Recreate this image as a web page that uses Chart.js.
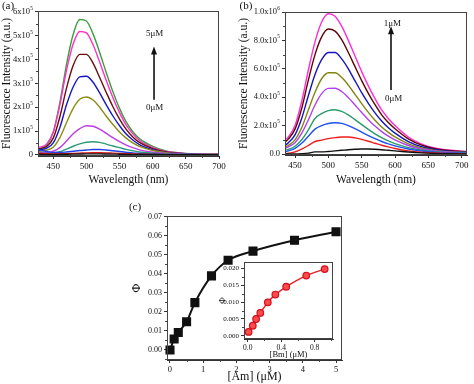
<!DOCTYPE html>
<html>
<head>
<meta charset="utf-8">
<script src="https://cdn.jsdelivr.net/npm/chart.js@4.4.1/dist/chart.umd.min.js"></script>
<style>
  body { margin: 0; background: #fff; width: 474px; height: 384px; position: relative; overflow: hidden; }
  canvas { position: absolute; }
</style>
</head>
<body>
<canvas id="chartA" width="237" height="190" style="left:0;top:0"></canvas>
<canvas id="chartB" width="237" height="190" style="left:237px;top:0"></canvas>
<canvas id="chartC" width="280" height="194" style="left:100px;top:190px"></canvas>
<canvas id="chartInset" width="135" height="110" style="left:205px;top:255px"></canvas>
<script>
// ---- panel (a): spectra, intensity in units of 1e5
const wlA = [427, 440, 450, 460, 470, 480, 490, 500, 510, 520, 530, 540, 550, 560, 570, 580, 600, 620, 650, 700]
const a1 = [0.03, 0.02, 0.02, 0.02, 0.025, 0.03, 0.035, 0.04, 0.04, 0.04, 0.035, 0.03, 0.025, 0.02, 0.015, 0.01, 0.01, 0.005, 0, 0]
const a2 = [0.06, 0.05, 0.04, 0.045, 0.05, 0.06, 0.07, 0.08, 0.085, 0.085, 0.08, 0.07, 0.06, 0.05, 0.04, 0.03, 0.02, 0.01, 0.005, 0]
const a3 = [0.2, 0.14, 0.1, 0.1, 0.12, 0.15, 0.18, 0.2, 0.22, 0.22, 0.2, 0.17, 0.14, 0.11, 0.08, 0.06, 0.03, 0.02, 0.01, 0]
const a4 = [0.05, 0.06, 0.08, 0.13, 0.24, 0.36, 0.46, 0.53, 0.55, 0.52, 0.45, 0.37, 0.3, 0.23, 0.17, 0.12, 0.07, 0.04, 0.01, 0]
const a5 = [0.08, 0.1, 0.15, 0.3, 0.58, 0.88, 1.1, 1.22, 1.2, 1.08, 0.9, 0.72, 0.55, 0.41, 0.3, 0.21, 0.11, 0.06, 0.02, 0.01]
const a6 = [0.15, 0.2, 0.32, 0.72, 1.35, 1.95, 2.33, 2.43, 2.3, 2.0, 1.62, 1.27, 0.96, 0.7, 0.5, 0.35, 0.18, 0.09, 0.03, 0.01]
const a7 = [0.2, 0.28, 0.5, 1.15, 2.1, 2.85, 3.27, 3.3, 3.05, 2.6, 2.1, 1.63, 1.22, 0.87, 0.62, 0.43, 0.22, 0.1, 0.04, 0.01]
const a8 = [0.25, 0.35, 0.7, 1.6, 2.8, 3.75, 4.22, 4.22, 3.85, 3.25, 2.62, 2.02, 1.5, 1.07, 0.75, 0.52, 0.26, 0.12, 0.04, 0.01]
const a9 = [0.3, 0.45, 0.95, 2.1, 3.55, 4.65, 5.18, 5.12, 4.62, 3.9, 3.12, 2.4, 1.77, 1.25, 0.88, 0.6, 0.3, 0.14, 0.05, 0.01]
const a10 = [0.22, 0.4, 0.95, 2.2, 3.8, 5.05, 5.68, 5.62, 5.08, 4.3, 3.45, 2.65, 1.95, 1.38, 0.97, 0.68, 0.35, 0.16, 0.06, 0.01]
const yTicksA = [0, 1, 2, 3, 4, 5, 6]
const yMantA = ['0', '1x10', '2x10', '3x10', '4x10', '5x10', '6x10']
const yExpA = ['', '5', '5', '5', '5', '5', '5']
const xTicksA = [450, 500, 550, 600, 650, 700]

// ---- panel (b)
const wlB = [435, 440, 450, 460, 470, 480, 490, 500, 510, 520, 530, 540, 550, 560, 570, 580, 590, 600, 620, 640, 660, 680, 700, 708]
const b1 = [0, 0, 0, 0.02, 0.06, 0.15, 0.15, 0.18, 0.22, 0.26, 0.3, 0.33, 0.35, 0.35, 0.33, 0.3, 0.26, 0.22, 0.14, 0.08, 0.04, 0.02, 0.01, 0.01]
const b2 = [0, 0.05, 0.15, 0.35, 0.6, 0.88, 0.98, 1.08, 1.15, 1.2, 1.2, 1.14, 1.03, 0.9, 0.76, 0.62, 0.5, 0.39, 0.22, 0.12, 0.07, 0.04, 0.03, 0.03]
const b3 = [0.15, 0.22, 0.4, 0.75, 1.25, 1.75, 2.0, 2.15, 2.2, 2.16, 2.0, 1.78, 1.54, 1.3, 1.08, 0.88, 0.71, 0.57, 0.35, 0.21, 0.12, 0.08, 0.06, 0.05]
const b4 = [0.25, 0.32, 0.55, 1.0, 1.7, 2.5, 2.85, 3.05, 3.12, 3.0, 2.75, 2.42, 2.07, 1.73, 1.42, 1.15, 0.92, 0.73, 0.45, 0.27, 0.16, 0.1, 0.07, 0.07]
const b5 = [0.4, 0.5, 0.8, 1.45, 2.4, 3.45, 4.25, 4.62, 4.63, 4.4, 3.97, 3.45, 2.92, 2.42, 1.97, 1.58, 1.26, 1.0, 0.6, 0.35, 0.21, 0.14, 0.1, 0.09]
const b6 = [0.5, 0.6, 1.0, 1.85, 3.1, 4.35, 5.3, 5.72, 5.72, 5.4, 4.85, 4.2, 3.55, 2.93, 2.38, 1.9, 1.52, 1.2, 0.72, 0.42, 0.25, 0.16, 0.12, 0.11]
const b7 = [0.6, 0.8, 1.35, 2.5, 4.1, 5.6, 6.65, 7.15, 7.15, 6.7, 6.0, 5.15, 4.32, 3.57, 2.9, 2.32, 1.85, 1.47, 0.88, 0.51, 0.3, 0.2, 0.14, 0.13]
const b8 = [0.85, 1.05, 1.75, 3.2, 5.2, 7.0, 8.25, 8.8, 8.65, 8.05, 7.15, 6.15, 5.17, 4.27, 3.47, 2.76, 2.22, 1.78, 1.07, 0.62, 0.37, 0.25, 0.18, 0.16]
const b9 = [1.0, 1.2, 2.0, 3.7, 5.9, 7.9, 9.3, 9.88, 9.7, 9.0, 8.0, 6.9, 5.8, 4.8, 3.9, 3.1, 2.5, 2.0, 1.2, 0.7, 0.42, 0.28, 0.2, 0.18]
const yTicksB = [0, 2, 4, 6, 8, 10]
const yMantB = ['0.0', '2.0x10', '4.0x10', '6.0x10', '8.0x10', '1.0x10']
const yExpB = ['', '5', '5', '5', '5', '6']
const xTicksB = [450, 500, 550, 600, 650, 700]

// ---- panel (c)
const amConc = [0, 0.125, 0.25, 0.5, 0.75, 1.25, 1.75, 2.5, 3.75, 5]
const phiA = [0.0, 0.0058, 0.0092, 0.0148, 0.0249, 0.039, 0.0472, 0.052, 0.0577, 0.0622]
const phiAErr = [0.0007, 0.0009, 0.0009, 0.0009, 0.001, 0.0013, 0.0017, 0.0017, 0.0017, 0.0015]
const xTicksC = [0, 1, 2, 3, 4, 5]
const yTicksC = [0, 0.01, 0.02, 0.03, 0.04, 0.05, 0.06, 0.07]
const yLabelsC = ['0.00', '0.01', '0.02', '0.03', '0.04', '0.05', '0.06', '0.07']

// ---- inset
const bmConc = [0.01, 0.06, 0.1, 0.15, 0.24, 0.33, 0.46, 0.7, 0.92]
const phiB = [0.0012, 0.003, 0.005, 0.0068, 0.0099, 0.0122, 0.0145, 0.0178, 0.0197]
const xTicksIn = [0, 0.4, 0.8]
const xLabelsIn = ['0.0', '0.4', '0.8']
const yTicksIn = [0, 0.005, 0.01, 0.015, 0.02]
const yLabelsIn = ['0.000', '0.005', '0.010', '0.015', '0.020']

const SERIF = "'Liberation Serif', 'Times New Roman', serif"
Chart.defaults.font.family = SERIF
Chart.defaults.color = '#111'
Chart.defaults.animation = false

function spectrum(xs, ys, color) {
  return {
    data: xs.map((x, i) => ({x: x, y: ys[i]})),
    borderColor: color,
    borderWidth: 1.4,
    pointRadius: 0,
    cubicInterpolationMode: 'monotone'
  }
}

function axis(o) {
  return {
    type: 'linear',
    min: o.min,
    max: o.max,
    afterBuildTicks: s => { s.ticks = o.ticks.map(v => ({value: v})) },
    afterFit: s => {
      if (s.isHorizontal()) s.height = o.size; else s.width = o.size
      s.paddingLeft = s.paddingRight = s.paddingTop = s.paddingBottom = 0
    },
    ticks: {
      display: !o.hideLabels,
      callback: (v, i) => o.labels ? o.labels[i] : String(v),
      font: {size: o.font}, padding: 2, maxRotation: 0, autoSkip: false, color: '#111'
    },
    grid: {drawOnChartArea: false, tickLength: 3, color: '#333'},
    border: {color: '#333'},
    title: {display: true, text: o.title, font: {size: o.titleSize}, padding: 0, color: '#111'}
  }
}

// frame around the plot + minor ticks
const frame = {
  id: 'frame',
  beforeDraw(chart, args, opts) {
    if (!opts.fill) return
    const a = chart.chartArea
    chart.ctx.save()
    chart.ctx.fillStyle = '#fff'
    chart.ctx.fillRect(a.left, a.top, a.width, a.height)
    chart.ctx.restore()
  },
  afterDraw(chart) {
    const {ctx, chartArea: a} = chart
    ctx.save()
    ctx.strokeStyle = '#444'
    ctx.lineWidth = 1
    ctx.strokeRect(Math.round(a.left) + 0.5, Math.round(a.top) + 0.5, Math.round(a.width) - 1, Math.round(a.height) - 1)
    ;['x', 'y'].forEach(id => {
      const s = chart.scales[id]
      const t = s.ticks.map(k => k.value)
      const step = t[1] - t[0]
      ctx.beginPath()
      for (let v = t[0] - step / 2; v <= s.max; v += step) {
        if (v < s.min) continue
        const p = Math.round(s.getPixelForValue(v)) + 0.5
        if (id === 'x') { ctx.moveTo(p, a.bottom); ctx.lineTo(p, a.bottom + 2) }
        else { ctx.moveTo(a.left, p); ctx.lineTo(a.left - 2, p) }
      }
      ctx.stroke()
    })
    ctx.restore()
  }
}

// y tick labels like 2x10^5, with a small raised exponent
function sciLabels(mant, exps, size) {
  return {
    id: 'sciLabels',
    afterDraw(chart) {
      const {ctx, chartArea: a} = chart
      const sy = chart.scales.y
      ctx.save()
      ctx.fillStyle = '#111'
      ctx.textBaseline = 'middle'
      ctx.textAlign = 'right'
      sy.ticks.forEach((t, i) => {
        const py = sy.getPixelForValue(t.value)
        let x = a.left - 5
        if (exps[i]) {
          ctx.font = (size * 0.62) + 'px ' + SERIF
          ctx.fillText(exps[i], x, py - 3.5)
          x -= ctx.measureText(exps[i]).width + 0.3
        }
        ctx.font = size + 'px ' + SERIF
        ctx.fillText(mant[i], x, py)
      })
      ctx.restore()
    }
  }
}

function notes(items) {
  return {
    id: 'notes',
    afterDraw(chart) {
      const {ctx} = chart
      const sx = chart.scales.x, sy = chart.scales.y
      ctx.save()
      ctx.fillStyle = '#111'
      ctx.strokeStyle = '#111'
      ctx.textAlign = 'center'
      ctx.textBaseline = 'middle'
      items.forEach(it => {
        if (it.arrow) {
          const px = sx.getPixelForValue(it.x)
          const y0 = sy.getPixelForValue(it.y0), y1 = sy.getPixelForValue(it.y1)
          ctx.lineWidth = 1.6
          ctx.beginPath(); ctx.moveTo(px, y0); ctx.lineTo(px, y1 + 6); ctx.stroke()
          ctx.beginPath(); ctx.moveTo(px, y1); ctx.lineTo(px - 3, y1 + 8); ctx.lineTo(px + 3, y1 + 8); ctx.closePath(); ctx.fill()
          return
        }
        const px = it.data ? sx.getPixelForValue(it.x) : it.x
        const py = it.data ? sy.getPixelForValue(it.y) : it.y
        ctx.font = it.size + 'px ' + SERIF
        ctx.fillText(it.text, px, py)
      })
      ctx.restore()
    }
  }
}

// (a)
const colorsA = ['#111111', '#d81818', '#2040e8', '#2a9a7a', '#c03ce6', '#8c8c12', '#1616c4', '#6a0e0e', '#ff30c8', '#3a9f3a']
const curvesA = [a1, a2, a3, a4, a5, a6, a7, a8, a9, a10]
new Chart(document.getElementById('chartA'), {
  type: 'line',
  data: { datasets: curvesA.map((c, i) => spectrum(wlA, c, colorsA[i])) },
  options: {
    responsive: false,
    layout: {padding: {left: 0, top: 11, right: 18, bottom: 3}},
    plugins: {legend: {display: false}, tooltip: {enabled: false}},
    scales: {
      x: axis({min: 427, max: 700, ticks: xTicksA, size: 31, font: 9, title: 'Wavelength (nm)', titleSize: 11.5}),
      y: axis({min: -0.05, max: 6.04, ticks: yTicksA, hideLabels: true, size: 38, font: 8.5, title: 'Fluorescence Intensity (a.u.)', titleSize: 11.5})
    }
  },
  plugins: [frame, sciLabels(yMantA, yExpA, 8.5), notes([
    {text: '(a)', x: 8, y: 6, size: 11},
    {text: '5μM', x: 603, y: 5.08, data: true, size: 9},
    {text: '0μM', x: 603, y: 2.0, data: true, size: 9},
    {arrow: true, x: 602, y0: 2.31, y1: 4.55}
  ])]
})

// (b)
const colorsB = ['#111111', '#f01c1c', '#2050f0', '#2a9a6a', '#b040f0', '#848410', '#1414c0', '#5e0606', '#ff2ed0']
const curvesB = [b1, b2, b3, b4, b5, b6, b7, b8, b9]
new Chart(document.getElementById('chartB'), {
  type: 'line',
  data: { datasets: curvesB.map((c, i) => spectrum(wlB, c, colorsB[i])) },
  options: {
    responsive: false,
    layout: {padding: {left: 0, top: 12, right: 7, bottom: 3}},
    plugins: {legend: {display: false}, tooltip: {enabled: false}},
    scales: {
      x: axis({min: 435, max: 708, ticks: xTicksB, size: 32, font: 9, title: 'Wavelength (nm)', titleSize: 11.5}),
      y: axis({min: -0.07, max: 10, ticks: yTicksB, hideLabels: true, size: 48, font: 8.5, title: 'Fluorescence Intensity (a.u.)', titleSize: 11.5})
    }
  },
  plugins: [frame, sciLabels(yMantB, yExpB, 8.5), notes([
    {text: '(b)', x: 9, y: 6, size: 11},
    {text: '1μM', x: 596, y: 9.15, data: true, size: 9},
    {text: '0μM', x: 598, y: 3.87, data: true, size: 9},
    {arrow: true, x: 594, y0: 4.5, y1: 9.0}
  ])]
})

// (c) main
const errorBars = {
  id: 'errorBars',
  afterDatasetsDraw(chart) {
    const {ctx, scales: {x, y}} = chart
    ctx.save()
    ctx.strokeStyle = '#111'
    ctx.lineWidth = 1.2
    ctx.beginPath()
    amConc.forEach((c, i) => {
      const px = x.getPixelForValue(c)
      const top = y.getPixelForValue(phiA[i] + phiAErr[i])
      const bot = y.getPixelForValue(phiA[i] - phiAErr[i])
      ctx.moveTo(px, top); ctx.lineTo(px, bot)
      ctx.moveTo(px - 3, top); ctx.lineTo(px + 3, top)
      ctx.moveTo(px - 3, bot); ctx.lineTo(px + 3, bot)
    })
    ctx.stroke()
    ctx.restore()
  }
}

new Chart(document.getElementById('chartC'), {
  type: 'line',
  data: {
    datasets: [{
      data: amConc.map((c, i) => ({x: c, y: phiA[i]})),
      borderColor: '#111',
      borderWidth: 2,
      pointStyle: 'rect',
      pointRadius: 5,
      pointBackgroundColor: '#111',
      pointBorderColor: '#111',
      cubicInterpolationMode: 'monotone',
      clip: false
    }]
  },
  options: {
    responsive: false,
    layout: {padding: {left: 30, top: 26, right: 38, bottom: 0}},
    plugins: {legend: {display: false}, tooltip: {enabled: false}},
    scales: {
      x: axis({min: -0.09, max: 5.18, ticks: xTicksC, size: 24, font: 8.5, title: '[Am] (μM)', titleSize: 12}),
      y: axis({min: -0.0053, max: 0.0705, ticks: yTicksC, labels: yLabelsC, size: 37, font: 8, title: 'Φ', titleSize: 12})
    }
  },
  plugins: [frame, errorBars, notes([{text: '(c)', x: 35, y: 17, size: 11}])]
})

// inset
new Chart(document.getElementById('chartInset'), {
  type: 'line',
  data: {
    datasets: [{
      data: bmConc.map((c, i) => ({x: c, y: phiB[i]})),
      borderColor: '#e8202a',
      borderWidth: 1.5,
      pointRadius: 3.3,
      pointBackgroundColor: '#ff4a4a',
      pointBorderColor: '#d0101c',
      pointBorderWidth: 1.2,
      cubicInterpolationMode: 'monotone',
      clip: false
    }]
  },
  options: {
    responsive: false,
    layout: {padding: {left: 12, top: 7, right: 7, bottom: 5}},
    plugins: {legend: {display: false}, tooltip: {enabled: false}, frame: {fill: true}},
    scales: {
      x: axis({min: -0.045, max: 1.02, ticks: xTicksIn, labels: xLabelsIn, size: 21, font: 7.5, title: '[Bm] (μM)', titleSize: 8.5}),
      y: axis({min: -0.0009, max: 0.0218, ticks: yTicksIn, labels: yLabelsIn, size: 27, font: 7, title: 'Φ', titleSize: 9})
    }
  },
  plugins: [frame]
})
</script>
</body>
</html>
